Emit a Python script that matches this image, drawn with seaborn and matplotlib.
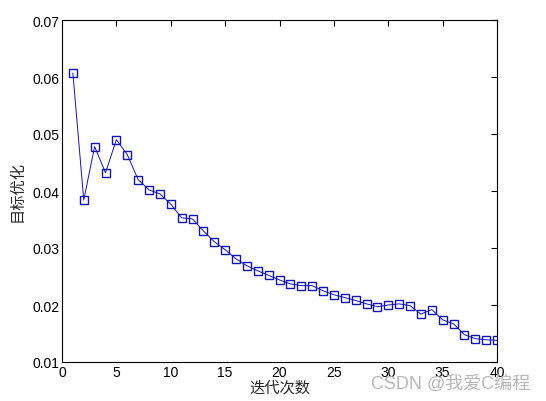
import matplotlib
matplotlib.use("Agg")
import matplotlib.pyplot as plt
import seaborn as sns
import pandas as pd

iterations = list(range(1, 41))
objective = [0.0607, 0.0384, 0.0478, 0.0432, 0.0490, 0.0464, 0.0420, 0.0402, 0.0395, 0.0377,
             0.0353, 0.0351, 0.0330, 0.0311, 0.0297, 0.0281, 0.0269, 0.0260, 0.0252, 0.0244,
             0.0237, 0.0234, 0.0234, 0.0225, 0.0218, 0.0213, 0.0208, 0.0202, 0.0197, 0.0200,
             0.0202, 0.0199, 0.0184, 0.0192, 0.0174, 0.0167, 0.0148, 0.0141, 0.0139, 0.0138]
xticks = [0, 5, 10, 15, 20, 25, 30, 35, 40]
yticks = [0.01, 0.02, 0.03, 0.04, 0.05, 0.06, 0.07]
xlabel = "迭代次数"
ylabel = "目标优化"
watermark = "CSDN @我爱C编程"

sns.set_style("white")
plt.rcParams['font.family'] = ['Liberation Sans', 'Noto Sans CJK SC', 'DejaVu Sans']

df = pd.DataFrame({"iter": iterations, "obj": objective})

fig = plt.figure(figsize=(5.46, 4.02), dpi=100)
ax = fig.add_axes([62/546, 39/402, 435/546, 342/402])
color = '#1414b4'
sns.lineplot(data=df, x="iter", y="obj", ax=ax, color=color, linewidth=0.7,
             marker='s', markersize=6.0, markerfacecolor='none',
             markeredgecolor=color, markeredgewidth=1.0)
ax.set_xlim(0, 40)
ax.set_ylim(0.01, 0.07)
ax.set_xticks(xticks)
ax.set_yticks(yticks)
ax.set_xticklabels([str(t) for t in xticks])
ax.set_yticklabels([f"{t:.2f}" for t in yticks])
ax.tick_params(direction='in', length=4, width=0.8, top=True, right=True,
               labelsize=10, colors='black', pad=2)
for s in ax.spines.values():
    s.set_visible(True)
    s.set_color('black')
    s.set_linewidth(0.8)
ax.set_xlabel(xlabel, fontsize=11, family=['Noto Sans CJK SC', 'DejaVu Sans'], labelpad=0)
ax.set_ylabel(ylabel, fontsize=11, family=['Noto Sans CJK SC', 'DejaVu Sans'], labelpad=5)
fig.text(530/546, 1 - 384/402, watermark, fontsize=13, color='#b8b8b8',
         ha='right', va='center', family=['Liberation Sans', 'Noto Sans CJK SC'])
fig.savefig("out.png", dpi=100, facecolor='white')
